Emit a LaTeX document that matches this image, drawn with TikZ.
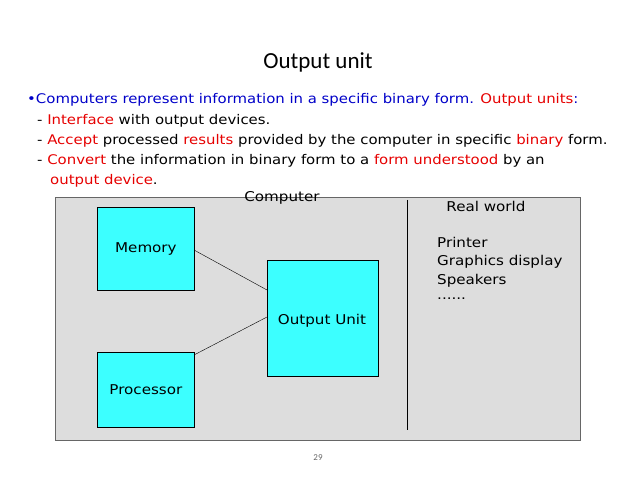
\documentclass[tikz,border=0pt]{standalone}
\usepackage{fontspec}
\setmainfont{DejaVu Sans}
\newfontfamily\titlefont{Carlito}
\definecolor{tblue}{RGB}{0,0,200}
\definecolor{tred}{RGB}{230,0,0}
\definecolor{boxbg}{RGB}{221,221,221}
\definecolor{cy}{RGB}{60,255,255}
\newcommand{\wide}[1]{\scalebox{1.12}[1]{#1}}
\begin{document}
\begin{tikzpicture}[x=1pt,y=-1pt,
  txt/.style={anchor=west,inner sep=0,font=\fontsize{13.3}{15}\selectfont},
  unit/.style={draw=black,fill=cy,line width=0.8pt,inner sep=0},
  lbl/.style={inner sep=0,font=\fontsize{13.5}{15}\selectfont}]
\useasboundingbox (0,0) rectangle (638,478);
\node[inner sep=0,font=\titlefont\fontsize{23}{25}\selectfont] (title) at (318,62) {Output unit};
\node[txt] (l1) at (27,100) {\wide{\textcolor{tblue}{•Computers represent information in a specific binary form.} \textcolor{tred}{Output units}\textcolor{tblue}{:}}};
\node[txt] (l2) at (37,121) {\wide{- \textcolor{tred}{Interface} with output devices.}};
\node[txt] (l3) at (37,141) {\wide{- \textcolor{tred}{Accept} processed \textcolor{tred}{results} provided by the computer in specific \textcolor{tred}{binary} form.}};
\node[txt] (l4) at (37,161) {\wide{- \textcolor{tred}{Convert} the information in binary form to a \textcolor{tred}{form understood} by an}};
\node[txt] (l5) at (50,181) {\wide{\textcolor{tred}{output device}.}};
\node[draw=black!60,fill=boxbg,line width=0.8pt,minimum width=525,minimum height=243,inner sep=0,anchor=north west] (bg) at (55,197) {};
\node[unit,minimum width=97,minimum height=83,anchor=north west] (mem) at (97,207) {};
\node[lbl] at (mem.center) {\wide{Memory}};
\node[unit,minimum width=97,minimum height=75,anchor=north west] (proc) at (97,352) {};
\node[lbl] at (proc.center) {\wide{Processor}};
\node[unit,minimum width=111,minimum height=116,anchor=north west] (out) at (267,260) {};
\node[lbl] at (322,321) {\wide{Output Unit}};
\draw (194,250) -- (267,290);
\draw (194,355) -- (267,317);
\node[lbl] (comp) at (282,198) {\wide{Computer}};
\coordinate (vt) at (407,200);
\coordinate (vb) at (407,430);
\draw[line width=0.8pt] (vt) -- (vb);
\node[lbl] (rw) at (486,206) {\wide{Real world}};
\node[lbl,anchor=west] (p1) at (437,242) {\wide{Printer}};
\node[lbl,anchor=west] (p2) at (437,262) {\wide{Graphics display}};
\node[lbl,anchor=west] (p3) at (437,281) {\wide{Speakers}};
\node[lbl,anchor=west] (p4) at (437,299) {\wide{......}};
\node[inner sep=0,text=black!60,font=\titlefont\fontsize{9}{10}\selectfont] (pg) at (318,458) {29};
\end{tikzpicture}
\end{document}
